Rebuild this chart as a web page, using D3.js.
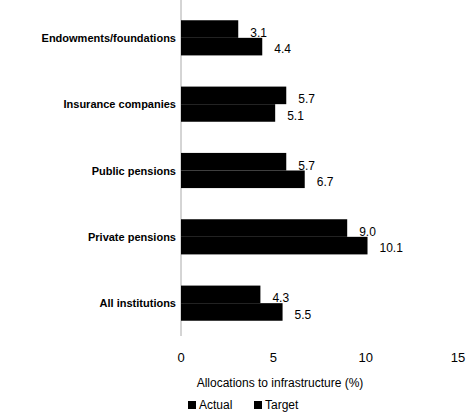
<!DOCTYPE html>
<html><head><meta charset="utf-8">
<script src="https://cdn.jsdelivr.net/npm/d3@7"></script>
<style>body{margin:0;background:#fff;font-family:"Liberation Sans",Arial,sans-serif;}</style>
</head><body>
<script>
const categories = ["Endowments/foundations", "Insurance companies", "Public pensions", "Private pensions", "All institutions"];
const actual = [3.1, 5.7, 5.7, 9.0, 4.3];
const target = [4.4, 5.1, 6.7, 10.1, 5.5];
const ticks = [0, 5, 10, 15];

const width = 474, height = 415;
const plotLeft = 181, plotRight = 458, plotTop = 5, plotBottom = 336;

const svg = d3.select("body").append("svg").attr("width", width).attr("height", height);

const xScale = d3.scaleLinear().domain([0, 15]).range([plotLeft, plotRight]);
const yScale = d3.scaleBand().domain(categories).range([plotTop, plotBottom]).paddingInner(0.47).paddingOuter(0.23);
const half = yScale.bandwidth() / 2;

// axis line
svg.append("line").attr("x1", plotLeft).attr("x2", plotLeft).attr("y1", 0).attr("y2", plotBottom)
    .attr("stroke", "#aaa");

categories.forEach((c, i) => {
    let y = yScale(c);
    svg.append("rect").attr("x", plotLeft).attr("y", y).attr("width", xScale(actual[i]) - plotLeft)
        .attr("height", half).attr("fill", "#000");
    svg.append("rect").attr("x", plotLeft).attr("y", y + half).attr("width", xScale(target[i]) - plotLeft)
        .attr("height", half).attr("fill", "#000");
    svg.append("text").attr("x", xScale(actual[i]) + 12).attr("y", y + half - 1)
        .attr("font-size", 12).text(actual[i].toFixed(1));
    svg.append("text").attr("x", xScale(target[i]) + 12).attr("y", y + 2 * half - 2)
        .attr("font-size", 12).text(target[i].toFixed(1));
    svg.append("text").attr("x", 176).attr("y", y + half + 4).attr("text-anchor", "end")
        .attr("font-size", 11).attr("font-weight", "bold").text(c);
});

svg.selectAll(".tick").data(ticks).enter().append("text")
    .attr("x", d => xScale(d)).attr("y", 362).attr("text-anchor", "middle")
    .attr("font-size", 13).text(d => d);

svg.append("text").attr("x", 280).attr("y", 387).attr("text-anchor", "middle")
    .attr("font-size", 12).text("Allocations to infrastructure (%)");

// legend
const legend = [["Actual", 188], ["Target", 254]];
legend.forEach(l => {
    svg.append("rect").attr("x", l[1]).attr("y", 401).attr("width", 8).attr("height", 8).attr("fill", "#000");
    svg.append("text").attr("x", l[1] + 11).attr("y", 409).attr("font-size", 12).text(l[0]);
});
</script>
</body></html>
